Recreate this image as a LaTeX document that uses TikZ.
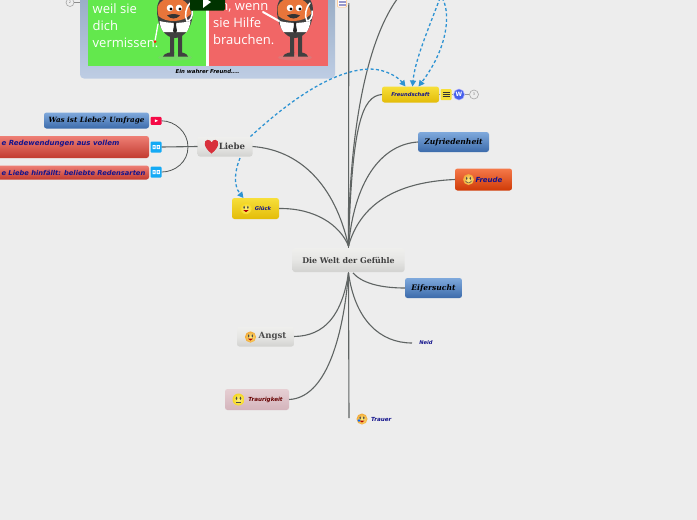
\documentclass[tikz,border=0pt]{standalone}
\usepackage{fontspec}
\setmainfont{DejaVu Sans}
\newfontfamily\deco{DejaVu Serif}
\newfontfamily\panel{Open Sans}
\usetikzlibrary{arrows.meta}
\definecolor{bgc}{HTML}{EDEDED}
\definecolor{linec}{HTML}{5F6463}
\definecolor{dashc}{HTML}{2E93D3}
\definecolor{navy}{HTML}{14148C}
\definecolor{gtop}{HTML}{EFEFED}
\definecolor{gmid}{HTML}{E6E6E4}
\definecolor{gbot}{HTML}{D2D2D0}
\definecolor{btop}{HTML}{7FA9DC}
\definecolor{bbot}{HTML}{3C6BAB}
\definecolor{ytop}{HTML}{F7DF3A}
\definecolor{ybot}{HTML}{E3BC08}
\definecolor{rtop}{HTML}{EE7F75}
\definecolor{rbot}{HTML}{C23B30}
\definecolor{otop}{HTML}{F5794A}
\definecolor{obot}{HTML}{CF3A06}
\definecolor{ptop}{HTML}{E6CFD3}
\definecolor{pbot}{HTML}{D4B4BC}
\definecolor{cartop}{HTML}{96AAC3}
\definecolor{carbot}{HTML}{BECDE4}
\definecolor{pgreen}{HTML}{63E84D}
\definecolor{pred}{HTML}{F16666}
\definecolor{skin}{HTML}{E8753A}
\definecolor{ytred}{HTML}{F50A46}
\definecolor{icblue}{HTML}{14AAF5}
\definecolor{wpblue}{HTML}{465FEB}
\definecolor{heartc}{HTML}{D8303C}
\definecolor{facey}{HTML}{F5D820}
\definecolor{faceo}{HTML}{F2A93A}
\definecolor{facel}{HTML}{FFF080}
\tikzset{
  x=1pt,y=-1pt,
  card/.style={rounded corners=2.5pt,inner sep=0pt,outer sep=0pt,anchor=center,align=center},
  graybox/.style={card,top color=gtop,bottom color=gbot,middle color=gmid},
  linkblue/.style={card,top color=btop,bottom color=bbot},
  yel/.style={card,top color=ytop,bottom color=ybot},
  redbox/.style={card,top color=rtop,bottom color=rbot},
  conn/.style={draw=linec,line width=1.1pt},
  thin conn/.style={draw=linec!85!black,line width=0.8pt},
  dashlink/.style={draw=dashc,line width=1.3pt,dash pattern=on 3pt off 2.4pt,-{Triangle[length=6pt,width=6pt]}},
  bluet/.style={text=navy},
  panelt/.style={font=\panel\fontsize{13}{17.3}\selectfont,text=white,align=left,anchor=north west,inner sep=0pt},
  iconb/.style={rounded corners=1pt,inner sep=0pt,minimum width=#1,minimum height=#1},
}
\newcommand\fcface[5]{% x, y, r, mouth: 0 smile, 1 flat, 2 open; outer colour
  \begin{scope}[shift={(#1,#2)},scale=#3]
    \shade[inner color=facel,outer color=#5] (0,0) circle (1);
    \fill[black!70] (-0.33,-0.2) ellipse (0.15 and 0.3) (0.33,-0.2) ellipse (0.15 and 0.3);
    \ifcase#4
      \draw[black!70,line width=0.5pt] (-0.55,0.25) .. controls (-0.25,0.75) and (0.25,0.75) .. (0.55,0.25);
    \or
      \draw[black!70,line width=0.6pt] (-0.4,0.45) -- (0.4,0.45);
    \or
      \fill[red!70!black] (-0.45,0.3) .. controls (-0.3,0.75) and (0.3,0.75) .. (0.45,0.3) -- cycle;
    \fi
  \end{scope}}
\newcommand\fcman[1]{% x
  \begin{scope}[shift={(#1,0)}]
    \fill[black!35,opacity=.25] (0,57.5) ellipse (17 and 3);
    \fill[black!75] (-5,35) rectangle (-1,53) (3,35) rectangle (7,53);
    \fill[black!75] (-12,56.5) .. controls (-11,53) and (-4,52) .. (-1,52) -- (-1,56.5) -- cycle;
    \fill[black!75] (3,56.5) -- (3,52) .. controls (6,52) and (12,53) .. (13,56.5) -- cycle;
    \fill[black!75] (-18,10) .. controls (-18,-14) and (18,-14) .. (18,10) .. controls (18,26) and (10,38) .. (0,38) .. controls (-10,38) and (-18,26) .. (-18,10) -- cycle;
    \fill[skin] (-17.5,10) .. controls (-18,-6) and (15,-8) .. (16,14) .. controls (8,23) and (-9,23) .. (-16.5,16) -- cycle;
    \fill[white] (-15.5,21) .. controls (-6,23.5) and (6,23.5) .. (15.5,21) .. controls (15,26) and (13,30) .. (11.5,32) -- (-11.5,32) .. controls (-14,29) and (-15,25) .. (-15.5,21) -- cycle;
    \fill[black!85] (-1.5,22) -- (1.5,22) -- (1,25) -- (2,31) -- (0,33) -- (-2,31) -- (-1,25) -- cycle;
    \fill[white] (-5,8) circle (3.3) (4,8) circle (3.3);
    \fill[black] (-4,9) circle (1.7) (5,9) circle (1.7);
    \fill[black!80] (-8,15.5) .. controls (-4,13.5) and (1,13.5) .. (5,15.5) .. controls (1,19.5) and (-4,19.5) .. (-8,15.5) -- cycle;
    \draw[white,line width=1.5pt,line cap=round] (15,3) .. controls (11,7) and (9,16) .. (12,21) .. controls (15,21) and (18,17) .. (17,11);
  \end{scope}}
\begin{document}
\begin{tikzpicture}
\useasboundingbox (0,0) rectangle (697,520);
\fill[bgc] (0,0) rectangle (697,520);

% picture card
\shade[top color=cartop,bottom color=carbot,rounded corners=4pt]
  (80,-10) rectangle (335,78.5);
\node[circle,draw=black!35,fill=bgc,line width=0.6pt,minimum size=8pt,inner sep=0pt,font=\fontsize{3.5}{4}\selectfont,text=black!50] (num) at (70,2.5) {2};
\coordinate (cardw) at (80,2.5);
\draw[black!45,line width=0.6pt] (num) -- (cardw);
\fill[pgreen] (87.5,-5) rectangle (206,65.5);
\fill[white] (206,-5) rectangle (209,65.5);
\fill[pred] (209,-5) rectangle (327.5,65.5);
\fcman{175}
\draw[white,line width=1.3pt,line cap=round] (158,24) -- (155,41);
\fill[red!80!orange] (155,41.5) circle (1.5);
\fcman{295}
\draw[white,line width=2pt,line cap=round] (263,12) -- (279,21);
\node[panelt] (gtext) at (92.5,3) {weil sie\\dich\\vermissen.};
\node[panelt] (rtext) at (213,3) {an, wenn\\sie Hilfe\\brauchen.};
\fill[black!80!green,rounded corners=1.5pt] (190,-5) rectangle (225,10.5);
\fill[white] (203,-3) -- (211,2) -- (203,8) -- cycle;
\node[font=\bfseries\itshape\fontsize{5.4}{6}\selectfont,inner sep=0pt] (cap) at (207.5,71) {Ein wahrer Freund....};

% root and hubs
\coordinate (hubt) at (348.5,246);
\coordinate (hubb) at (348.5,273);
\coordinate (hubc) at (353,273);
\coordinate (topa) at (348.8,3);
\coordinate (topb) at (398,-2);

% connectors under the nodes
\draw[conn] (topa) -- (hubt);
\draw[conn] (topb) .. controls (370,35) and (349,120) .. (hubt);
\draw[conn] (hubb) -- (hubt);

\node[graybox,minimum width=112pt,minimum height=24pt,font=\deco\bfseries\fontsize{7.9}{10}\selectfont,text=black!75] (root) at (348.5,260) {Die Welt der Gefühle};

\node[yel,minimum width=57pt,minimum height=16pt,bluet,font=\bfseries\itshape\fontsize{5.2}{6}\selectfont] (freund) at (410.5,94.5) {Freundschaft};
\node[linkblue,minimum width=71pt,minimum height=20pt,font=\deco\bfseries\itshape\fontsize{7.6}{9}\selectfont] (zufr) at (453.5,142) {Zufriedenheit};
\node[card,top color=otop,bottom color=obot,minimum width=57pt,minimum height=22pt,font=\bfseries\itshape\fontsize{7}{8}\selectfont,text=navy] (freude) at (483.5,179.5) {\hspace*{11pt}Freude};
\node[graybox,minimum width=55pt,minimum height=20pt,font=\deco\bfseries\fontsize{8.6}{10}\selectfont,text=black!75] (liebe) at (225,146.5) {\hspace*{14pt}Liebe};
\node[yel,minimum width=47pt,minimum height=21pt,font=\bfseries\itshape\fontsize{5.2}{6}\selectfont,text=navy] (glueck) at (255.5,208.5) {\hspace*{15pt}Glück};
\node[linkblue,minimum width=57pt,minimum height=20pt,font=\deco\bfseries\itshape\fontsize{7.6}{9}\selectfont] (eifer) at (433.5,288) {Eifersucht};
\node[graybox,minimum width=57pt,minimum height=20pt,font=\deco\bfseries\fontsize{8.6}{10}\selectfont,text=black!70] (angst) at (265.5,336.5) {\hspace*{14pt}Angst};
\node[card,top color=ptop,bottom color=pbot,minimum width=64pt,minimum height=21pt,font=\bfseries\itshape\fontsize{5.6}{6}\selectfont,text=red!40!black] (traur) at (257,399.5) {\hspace*{17pt}Traurigkeit};
\node[inner sep=0pt,bluet,font=\bfseries\itshape\fontsize{5.2}{6}\selectfont] (neid) at (426,343) {Neid};
\coordinate (neidw) at (412,343);
\node[inner sep=0pt,bluet,font=\bfseries\itshape\fontsize{5.6}{6}\selectfont,anchor=west] (trauer) at (371,419) {Trauer};
\coordinate (trauerw) at (349,418);

% trunk curves
\draw[conn] (freund.west) .. controls (362,96) and (352,125) .. (hubt);
\draw[conn] (zufr.west) .. controls (385,144) and (355,175) .. (hubt);
\draw[conn] (freude.west) .. controls (395,182) and (360,205) .. (hubt);
\draw[conn] (liebe.east) .. controls (300,150) and (335,185) .. (hubt);
\draw[conn] (glueck.east) .. controls (315,208) and (340,225) .. (hubt);
\draw[conn] (hubc) .. controls (362,283) and (380,288) .. (eifer.west);
\draw[conn] (hubb) .. controls (355,320) and (380,343) .. (neidw);
\draw[conn] (hubb) .. controls (342,315) and (325,336) .. (angst.east);
\draw[conn] (hubb) .. controls (343,340) and (325,398) .. (traur.east);
\draw[conn] (hubb) -- (trauerw);

% note icon
\node[inner sep=0pt,minimum width=9pt,minimum height=8pt,draw=orange!55,fill=white,rounded corners=.8pt,line width=.5pt] (note) at (342,3) {};
\foreach \yy in {1,2.5,4,5.5}{\draw[blue!35!gray!60,line width=.5pt] (338.5,\yy) -- (345.5,\yy);}

% Freundschaft tail
\node[iconb=11pt,fill=ytop] (menu) at (446,94.5) {};
\foreach \yy in {92.3,94.5,96.7}{\draw[black!80,line width=.6pt] (442.5,\yy) -- (449.5,\yy);}
\node[circle,fill=wpblue,draw=blue!30!white,line width=.5pt,minimum size=11pt,inner sep=0pt,font=\bfseries\fontsize{6}{6}\selectfont,text=white] (wp) at (459,94.5) {W};
\node[circle,draw=black!35,fill=bgc,line width=0.6pt,minimum size=9pt,inner sep=0pt,font=\fontsize{3.5}{4}\selectfont,text=black!50] (cnt) at (474,94.5) {3};
\draw[black!40,line width=.6pt] (freund.east) -- (menu);
\draw[black!40,line width=.6pt] (menu) -- (wp);
\draw[black!40,line width=.6pt] (wp) -- (cnt);

% left branch
\node[linkblue,minimum width=105pt,minimum height=16pt,font=\deco\bfseries\itshape\fontsize{7.2}{9}\selectfont] (umfrage) at (96.5,120.5) {Was ist Liebe? Umfrage};
\node[redbox,minimum width=155pt,minimum height=22pt] (rede) at (71.5,147) {};
\node[anchor=east,inner sep=0pt,bluet,font=\bfseries\itshape\fontsize{7}{8}\selectfont] (redet) at (119.5,143.5) {e Redewendungen aus vollem};
\node[redbox,minimum width=155pt,minimum height=14pt] (hin) at (71.5,172.5) {};
\node[anchor=east,inner sep=0pt,bluet,font=\bfseries\itshape\fontsize{6.7}{8}\selectfont] (hint) at (145.5,172.5) {e Liebe hinfällt: beliebte Redensarten};
\node[iconb=8pt,minimum width=11pt,fill=ytred] (yt) at (156,120.8) {};
\fill[white] (154.8,119.3) -- (158,120.8) -- (154.8,122.3) -- cycle;
\node[iconb=11pt,fill=icblue] (ic1) at (156,147) {};
\node[iconb=11pt,fill=icblue] (ic2) at (156,172) {};
\foreach \ic in {147,172}{\fill[white] (152.5,\ic-2) rectangle (155.5,\ic+2) (156.5,\ic-2) rectangle (159.8,\ic+2);
  \fill[blue!40!cyan!70] (153.3,\ic-1) rectangle (154.7,\ic+1) (157.5,\ic-1) rectangle (159,\ic+1);}
\draw[thin conn] (yt.east) .. controls (175,121) and (188,132) .. (188,147) .. controls (188,162) and (175,172) .. (ic2.east);
\draw[conn] (ic1.east) -- (liebe.west);

% faces
\fcface{468.5}{179.5}{5.5}{0}{faceo}
\fcface{246}{208.5}{5.7}{2}{facey}
\fcface{250.5}{337}{5.6}{2}{faceo}
\fcface{238.5}{399.5}{6}{1}{facey}
\fcface{362}{419}{5.5}{2}{faceo}
\fill[blue!60!cyan] (359,420.5) circle (1.3);
\fill[heartc] (211.5,153.5) .. controls (203,147) and (203.5,140.5) .. (207.5,139.8) .. controls (209.5,139.5) and (211,141) .. (211.5,142.5) .. controls (212,141) and (214,139.5) .. (215.5,139.8) .. controls (219.5,140.5) and (220,147) .. (211.5,153.5) -- cycle;

% dashed relations
\coordinate (loopa) at (440,-2);
\coordinate (loopb) at (442,-2);
\draw[dashlink] ([xshift=-2pt]liebe.north east) .. controls (285,105) and (330,70) .. (370,69) .. controls (385,69) and (398,77) .. ([xshift=-5pt]freund.north);
\draw[dashlink] (240,158) .. controls (235,170) and (233,185) .. ([xshift=-12pt]glueck.north);
\draw[dashlink] (loopa) .. controls (428,30) and (415,60) .. ([xshift=2pt]freund.north);
\draw[dashlink] (loopb) .. controls (450,10) and (450,45) .. ([xshift=8pt]freund.north);
\end{tikzpicture}
\end{document}
